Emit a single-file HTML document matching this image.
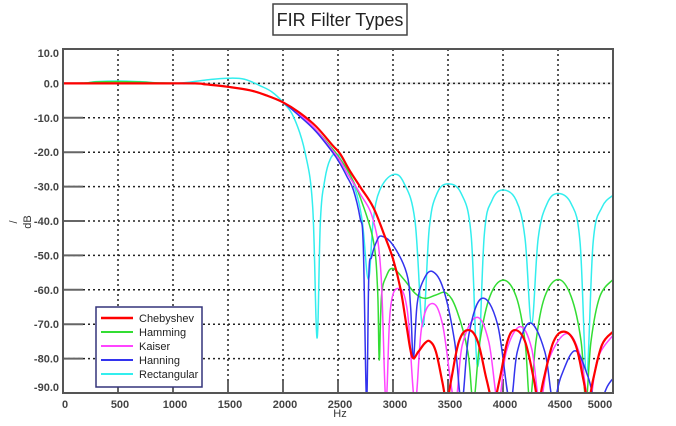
<!DOCTYPE html>
<html><head><meta charset="utf-8"><style>
html,body{margin:0;padding:0;background:#fff;width:676px;height:426px;overflow:hidden;font-family:"Liberation Sans",sans-serif}
svg{display:block}
</style></head><body>
<svg width="676" height="426" xmlns="http://www.w3.org/2000/svg">
<rect x="273" y="4" width="134" height="31" fill="#fff" stroke="#444" stroke-width="1.5"/>
<text x="340" y="26" text-anchor="middle" font-size="18" fill="#222">FIR Filter Types</text>
<g id="grid"></g>
<g id="series" clip-path="url(#pc)"></g>
<defs><clipPath id="pc"><rect x="63" y="49" width="550" height="344"/></clipPath></defs>
<rect x="63" y="49" width="550" height="344" fill="none" stroke="#555" stroke-width="2"/>
<g id="ticks" font-size="11" font-weight="bold" fill="#444"></g>
<text x="340" y="417" text-anchor="middle" font-size="11" fill="#333">Hz</text>
<text transform="translate(31,222) rotate(-90)" text-anchor="middle" font-size="11" fill="#333">dB</text>
<text transform="translate(17,222) rotate(-90)" text-anchor="middle" font-size="11" fill="#333">/</text>
<g>
<rect x="96" y="307" width="106" height="80" fill="#fff" stroke="#33337a" stroke-width="1.5"/>
<g id="legend"></g>
</g>
</svg>
<script>
const xTicks=[0,500,1000,1500,2000,2500,3000,3500,4000,4500,5000];
const yTicks=[10,0,-10,-20,-30,-40,-50,-60,-70,-80,-90];
const seriesNames=["Chebyshev","Hamming","Kaiser","Hanning","Rectangular"];
const seriesColors=["#ff0000","#33dd33","#ff44ff","#3333ee","#33eeee"];
const chebyshev=[[0,0],[400,0],[800,0],[1200,0],[1300,-0.3],[1500,-1],[1700,-2],[1850,-3.5],[2000,-5.5],[2150,-8.5],[2300,-12.5],[2450,-18],[2520,-20.5],[2600,-25],[2700,-30],[2820,-36],[2920,-44],[3000,-51],[3070,-60],[3124,-70.7],[3175,-79.5],[3230,-78],[3290,-75.5],[3336,-75],[3390,-78],[3450,-87],[3488,-110],[3530,-86],[3600,-75],[3684,-71.7],[3770,-75],[3850,-86],[3912,-110],[3970,-86],[4040,-75],[4109,-71.7],[4200,-75],[4280,-86],[4321,-110],[4370,-86],[4460,-75],[4563,-72.2],[4660,-76],[4730,-86],[4775,-110],[4820,-86],[4900,-76],[5000,-72.2]];
const hamming=[[0,0],[200,0.1],[300,0.4],[500,0.5],[700,0.4],[900,0.1],[1200,0],[1300,-0.3],[1500,-1],[1700,-2],[1850,-3.5],[2000,-5.5],[2150,-9],[2300,-13.5],[2450,-19],[2520,-22],[2600,-26],[2700,-33],[2820,-45.5],[2860,-60],[2875,-80.4],[2895,-62],[2940,-56],[3000,-53.8],[3100,-57],[3200,-61],[3290,-62.5],[3390,-61.5],[3488,-61],[3580,-66],[3680,-78],[3730,-110],[3790,-75],[3880,-62],[4003,-57.2],[4120,-62],[4200,-75],[4245,-110],[4300,-75],[4380,-62],[4503,-57],[4620,-62],[4710,-75],[4754,-110],[4800,-75],[4880,-62],[5000,-57]];
const kaiser=[[0,0],[400,0],[800,0],[1200,0],[1300,-0.3],[1500,-1],[1700,-2],[1850,-3.5],[2000,-5.5],[2150,-9],[2300,-13.5],[2450,-19.5],[2520,-22.5],[2600,-27],[2700,-32],[2820,-39.7],[2890,-55],[2936,-110],[2975,-66],[3048,-59.6],[3130,-66],[3200,-110],[3260,-71],[3351,-64],[3450,-70],[3563,-110],[3630,-76],[3760,-68],[3870,-75],[3957,-110],[4030,-78],[4154,-70.7],[4260,-77],[4336,-110],[4420,-80],[4579,-72.7],[4700,-79],[4784,-110],[4860,-80],[5000,-73.2]];
const hanning=[[0,0],[400,0],[800,0],[1200,0],[1300,-0.3],[1500,-1],[1700,-2],[1850,-3.5],[2000,-5.6],[2150,-9.5],[2300,-14],[2450,-20],[2518,-23.3],[2580,-27],[2640,-31],[2700,-39],[2730,-47.5],[2760,-110],[2780,-56],[2806,-50.4],[2850,-46],[2897,-44.4],[3000,-47],[3124,-55.2],[3160,-65],[3185,-80],[3220,-64],[3280,-57],[3360,-54.7],[3460,-60],[3560,-75],[3624,-110],[3690,-73],[3806,-62.5],[3950,-70],[4064,-110],[4130,-78],[4245,-69.6],[4380,-78],[4457,-110],[4530,-85],[4655,-77.7],[4770,-85],[4836,-110],[4880,-95],[4950,-88],[5000,-85.8]];
const rectangular=[[0,0],[200,0.1],[300,0.5],[500,0.7],[700,0.5],[900,0.1],[1100,0.2],[1300,1],[1500,1.5],[1650,1.2],[1800,-0.8],[1900,-2.5],[2000,-5.5],[2100,-10],[2200,-20],[2270,-36],[2309,-74],[2340,-40],[2380,-28],[2430,-22],[2490,-20.5],[2560,-23],[2650,-30],[2720,-40],[2776,-57],[2820,-40],[2880,-31],[3000,-26.5],[3100,-29],[3200,-40],[3270,-70.7],[3330,-42],[3400,-32],[3500,-29.2],[3620,-32],[3710,-44],[3770,-82.4],[3830,-44],[3900,-34],[4000,-31],[4120,-34],[4200,-45],[4260,-69.8],[4320,-45],[4400,-35],[4500,-32],[4620,-35],[4700,-46],[4760,-84],[4820,-46],[4900,-36],[5000,-32.5]];
const allSeries=[chebyshev,hamming,kaiser,hanning,rectangular];

const NS="http://www.w3.org/2000/svg";
const X0=63,X1=613,Y0=49,Y1=393;
function xs(v){return X0+(v-0)/5000*(X1-X0);}
function ys(v){return Y0+(10-v)/100*(Y1-Y0);}
function mk(tag,attrs,parent){const e=document.createElementNS(NS,tag);for(const k in attrs)e.setAttribute(k,attrs[k]);parent.appendChild(e);return e;}
const grid=document.getElementById('grid'),ticks=document.getElementById('ticks');
mk('line',{x1:X0,x2:X1,y1:ys(0),y2:ys(0),stroke:'#e4e4e4','stroke-width':2},grid);
xTicks.forEach((t,i)=>{
  const x=xs(t);
  if(i>0&&i<xTicks.length-1){
    const l=mk('line',{x1:x,x2:x,y1:Y0,y2:Y1,stroke:'#222','stroke-width':1.5,'stroke-dasharray':'2,3'},grid);
    
    
    mk('line',{x1:x,x2:x,y1:Y1-12,y2:Y1,stroke:'#666','stroke-width':2},grid);
  }
  const tx=mk('text',{x:i===xTicks.length-1?x-13:x+2,y:Y1+15,'text-anchor':'middle'},ticks);
  tx.textContent=t;
  
  
});
yTicks.forEach((t,i)=>{
  const y=ys(t);
  if(i>0&&i<yTicks.length-1){
    const l=mk('line',{x1:X0,x2:X1,y1:y,y2:y,stroke:'#222','stroke-width':1.5,'stroke-dasharray':'2,3'},grid);
    
    
    mk('line',{x1:X0,x2:X0+20,y1:y,y2:y,stroke:'#666','stroke-width':2},grid);
  }
  let ty=y+4; if(i===0) ty=y+8; if(i===yTicks.length-1) ty=y-2;
  const tx=mk('text',{x:X0-4,y:ty,'text-anchor':'end'},ticks);
  tx.textContent=t.toFixed(1);
  
  
});
function pathFor(pts){
  const p=pts.map(d=>[xs(d[0]),ys(Math.max(d[1],-93))]);
  let s='M'+p[0][0]+','+p[0][1];
  for(let i=0;i<p.length-1;i++){
    const a=p[Math.max(0,i-1)],b=p[i],c=p[i+1],d=p[Math.min(p.length-1,i+2)];
    const t=0.18;
    let c1y=b[1]+(c[1]-a[1])*t,c2y=c[1]-(d[1]-b[1])*t;
    const lim=Math.min(Math.max(b[1],c[1])+8,Y1+8);
    c1y=Math.min(c1y,lim);c2y=Math.min(c2y,lim);
    s+=' C'+(b[0]+(c[0]-a[0])*t)+','+c1y+' '+(c[0]-(d[0]-b[0])*t)+','+c2y+' '+c[0]+','+c[1];
  }
  return s;
}
const sg=document.getElementById('series');
const order=[4,1,2,3,0];
order.forEach(i=>{
  const p=mk('path',{d:pathFor(allSeries[i]),fill:'none',stroke:seriesColors[i],'stroke-width':i===0?2.2:1.5,'stroke-linejoin':'round'},sg);
  
  
});
const lg=document.getElementById('legend');
seriesNames.forEach((n,i)=>{
  const y=318+i*14;
  const g=mk('g',{},lg);
  
  
  mk('line',{x1:101,x2:133,y1:y,y2:y,stroke:seriesColors[i],'stroke-width':i===0?2.5:2},g);
  const t=mk('text',{x:139,y:y+4,'font-size':11,fill:'#222'},g);
  t.textContent=n;
});
</script>
</body></html>
